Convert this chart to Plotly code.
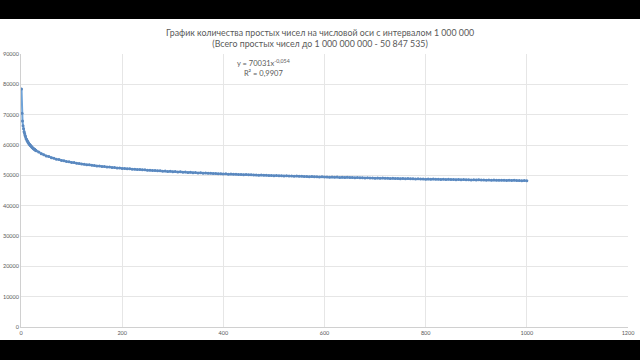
import plotly.graph_objects as go

# Interval index (each interval = 1 000 000 numbers)
interval_idx = list(range(1, 31)) + list(range(35, 1001, 5))

# Number of primes in each interval (read / estimated from the chart)
prime_counts = [
    78498, 70435, 67883, 66330, 65367, 64336, 63799, 63129, 62712, 62090,
    61890, 61440, 61230, 60850, 60700, 60350, 60250, 59900, 59820, 59560,
    59430, 59180, 59120, 58860, 58800, 58590, 58560, 58330, 58290, 58100,
    57660, 57120, 56820, 56390, 56190, 55820, 55640, 55340, 55210, 54930,
    54820, 54570, 54490, 54260,
    54190, 53980, 53930, 53720, 53690, 53500, 53460, 53290, 53250, 53090,
    53070, 52910, 52890, 52740, 52720, 52580, 52570, 52430, 52420, 52290,
    52290, 52160, 52170, 52030, 52040, 51910, 51920, 51800, 51810, 51680,
    51700, 51580, 51600, 51480, 51500, 51380, 51410, 51290, 51310, 51200,
    51230, 51120, 51150, 51030, 51060, 50950, 50990, 50880, 50910, 50800,
    50830, 50720, 50760, 50650, 50690, 50590, 50620, 50520, 50560, 50450,
    50490, 50390, 50430, 50330, 50370, 50270, 50310, 50210, 50250, 50160,
    50190, 50100, 50140, 50050, 50090, 49990, 50040, 49940, 49980, 49890,
    49930, 49850, 49890, 49790, 49840, 49750, 49790, 49700, 49740, 49660,
    49700, 49610, 49650, 49570, 49610, 49520, 49570, 49490, 49530, 49440,
    49490, 49400, 49450, 49360, 49410, 49320, 49370, 49290, 49330, 49250,
    49290, 49210, 49260, 49180, 49220, 49140, 49190, 49100, 49150, 49070,
    49110, 49040, 49080, 49000, 49050, 48970, 49010, 48940, 48980, 48900,
    48950, 48870, 48920, 48840, 48890, 48810, 48860, 48780, 48830, 48750,
    48800, 48720, 48770, 48690, 48740, 48660, 48710, 48630, 48680, 48610,
    48650, 48580, 48630, 48550, 48600, 48520, 48570, 48500, 48550, 48470,
    48520, 48440, 48500, 48420, 48470, 48390, 48440, 48370, 48420, 48340,
    48390, 48320, 48370, 48300, 48350, 48270, 48320, 48250, 48300, 48230,
]

x_ticks = [0, 200, 400, 600, 800, 1000, 1200]
y_ticks = [0, 10000, 20000, 30000, 40000, 50000, 60000, 70000, 80000, 90000]

title_text = ("График количества простых чисел на числовой оси с интервалом 1 000 000"
              "<br>(Всего простых чисел до 1 000 000 000 - 50 847 535)")
trend_text = "y = 70031x<sup>-0,054</sup><br>R² = 0,9907"

fig = go.Figure()
fig.add_trace(go.Scatter(
    x=interval_idx, y=prime_counts, mode="lines+markers",
    line=dict(color="#6FA3D8", width=2),
    marker=dict(color="#5A88BF", size=3),
    showlegend=False,
))

grey = "#595959"
fig.update_layout(
    width=640, height=360,
    margin=dict(l=21, r=12, t=54, b=33),
    paper_bgcolor="white", plot_bgcolor="white",
    font=dict(family="Lato", color=grey),
    xaxis=dict(range=[0, 1200], tickvals=x_ticks, ticktext=[str(v) for v in x_ticks],
               showgrid=True, gridcolor="#e6e6e6", gridwidth=1, automargin=False,
               showline=True, linecolor="#d0d0d0", zeroline=False,
               tickfont=dict(size=5.5, color=grey), ticks=""),
    yaxis=dict(range=[0, 90000], tickvals=y_ticks, ticktext=[str(v) for v in y_ticks],
               showgrid=True, gridcolor="#e6e6e6", gridwidth=1, automargin=False,
               showline=True, linecolor="#d0d0d0", zeroline=False,
               tickfont=dict(size=5.5, color=grey), ticks=""),
    shapes=[
        dict(type="rect", xref="paper", yref="paper", x0=-0.2, x1=1.2, y0=(327 - 19) / 273, y1=1.3,
             fillcolor="black", line=dict(width=0), layer="above"),
        dict(type="rect", xref="paper", yref="paper", x0=-0.2, x1=1.2, y0=-0.3, y1=(327 - 340) / 273,
             fillcolor="black", line=dict(width=0), layer="above"),
    ],
    annotations=[
        dict(text=title_text, xref="paper", yref="paper", x=(319.5 - 21) / 607, y=(327 - 37.5) / 273,
             xanchor="center", yanchor="middle", showarrow=False,
             font=dict(size=8.8, color=grey, family="Lato")),
        dict(text=trend_text, xref="paper", yref="paper", x=(263 - 21) / 607, y=(327 - 67.5) / 273,
             xanchor="center", yanchor="middle", showarrow=False,
             font=dict(size=7.5, color=grey, family="Lato")),
    ],
)

fig.write_html("out.html")
